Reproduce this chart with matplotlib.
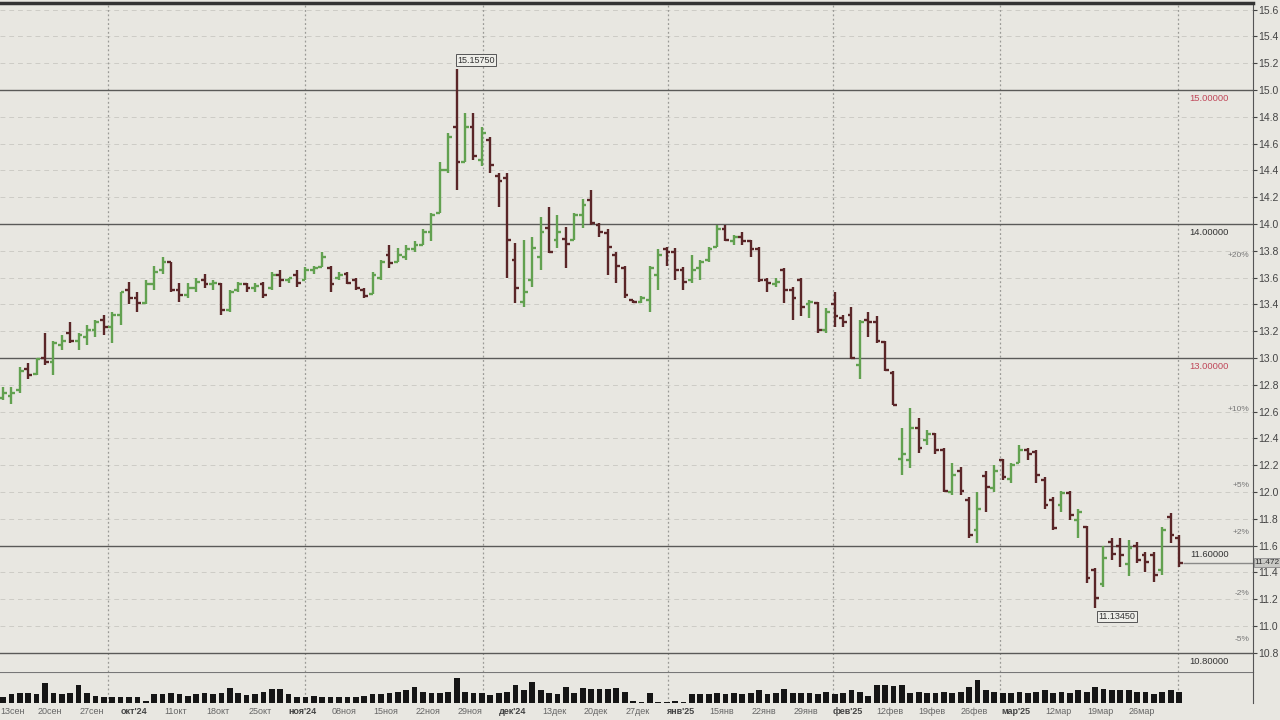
import matplotlib.pyplot as plt
import matplotlib.transforms as mtransforms
import numpy as np

plt.rcParams['font.family'] = ['Liberation Sans', 'DejaVu Sans']

# daily OHLC
opens = [12.70, 12.72, 12.76, 12.92, 12.88, 13.00, 12.97, 13.10, 13.19, 13.13,
         13.16, 13.21, 13.28, 13.23, 13.32, 13.51, 13.45, 13.41, 13.55, 13.66,
         13.72, 13.51, 13.47, 13.52, 13.58, 13.55, 13.55, 13.36, 13.51, 13.55,
         13.52, 13.55, 13.52, 13.62, 13.58, 13.62, 13.58, 13.66, 13.68, 13.67,
         13.60, 13.63, 13.58, 13.51, 13.48, 13.60, 13.77, 13.72, 13.75, 13.81,
         13.84, 13.94, 14.08, 14.40, 14.72, 14.46, 14.72, 14.48, 14.63, 14.36,
         14.34, 13.73, 13.42, 13.58, 13.75, 13.97, 13.88, 13.89, 13.88, 14.07,
         14.18, 13.99, 13.93, 13.77, 13.67, 13.43, 13.42, 13.43, 13.62, 13.81,
         13.79, 13.66, 13.58, 13.67, 13.73, 13.83, 13.96, 13.87, 13.90, 13.87,
         13.81, 13.58, 13.55, 13.66, 13.51, 13.58, 13.40, 13.41, 13.21, 13.40,
         13.30, 13.32, 12.95, 13.28, 13.27, 13.12, 12.89, 12.25, 12.24, 12.48,
         12.39, 12.43, 12.31, 12.00, 12.16, 11.94, 11.72, 12.12, 12.03, 12.24,
         12.10, 12.22, 12.31, 12.30, 12.09, 11.94, 11.90, 11.99, 11.79, 11.74,
         11.42, 11.31, 11.63, 11.60, 11.46, 11.60, 11.53, 11.53, 11.42, 11.81,
         11.66]
highs = [12.78, 12.78, 12.93, 12.96, 13.00, 13.19, 13.13, 13.17, 13.27, 13.19,
         13.25, 13.28, 13.32, 13.34, 13.49, 13.57, 13.49, 13.58, 13.69, 13.75,
         13.72, 13.56, 13.56, 13.60, 13.63, 13.58, 13.56, 13.51, 13.57, 13.56,
         13.56, 13.57, 13.64, 13.66, 13.60, 13.66, 13.68, 13.69, 13.79, 13.69,
         13.64, 13.64, 13.60, 13.52, 13.64, 13.73, 13.84, 13.82, 13.84, 13.87,
         13.96, 14.08, 14.46, 14.68, 15.1575, 14.83, 14.83, 14.72, 14.65, 14.38,
         14.38, 13.86, 13.88, 13.90, 14.05, 14.13, 14.07, 13.98, 14.08, 14.19,
         14.25, 14.01, 13.96, 13.79, 13.69, 13.43, 13.46, 13.69, 13.81, 13.83,
         13.82, 13.68, 13.77, 13.73, 13.83, 13.99, 13.99, 13.92, 13.94, 13.88,
         13.83, 13.60, 13.60, 13.67, 13.53, 13.60, 13.43, 13.42, 13.37, 13.49,
         13.32, 13.38, 13.28, 13.34, 13.31, 13.13, 12.90, 12.48, 12.63, 12.55,
         12.46, 12.44, 12.33, 12.22, 12.19, 11.96, 12.00, 12.16, 12.20, 12.25,
         12.22, 12.35, 12.33, 12.31, 12.11, 11.96, 12.01, 12.01, 11.87, 11.75,
         11.43, 11.60, 11.66, 11.66, 11.64, 11.63, 11.55, 11.55, 11.74, 11.84,
         11.68]
lows = [12.69, 12.66, 12.74, 12.84, 12.87, 12.95, 12.87, 13.06, 13.11, 13.06,
        13.10, 13.16, 13.17, 13.11, 13.25, 13.40, 13.34, 13.40, 13.51, 13.63,
        13.49, 13.42, 13.45, 13.49, 13.52, 13.51, 13.32, 13.34, 13.49, 13.49,
        13.49, 13.45, 13.51, 13.53, 13.56, 13.53, 13.58, 13.63, 13.68, 13.49,
        13.58, 13.55, 13.51, 13.45, 13.48, 13.58, 13.67, 13.72, 13.73, 13.79,
        13.84, 13.87, 14.08, 14.38, 14.25, 14.46, 14.48, 14.43, 14.38, 14.13,
        13.60, 13.41, 13.38, 13.53, 13.66, 13.78, 13.82, 13.67, 13.88, 13.97,
        13.99, 13.90, 13.62, 13.56, 13.45, 13.41, 13.41, 13.34, 13.51, 13.69,
        13.58, 13.51, 13.56, 13.58, 13.72, 13.83, 13.87, 13.84, 13.84, 13.75,
        13.57, 13.49, 13.53, 13.41, 13.28, 13.31, 13.30, 13.19, 13.19, 13.23,
        13.23, 12.99, 12.84, 13.16, 13.11, 12.90, 12.65, 12.13, 12.18, 12.29,
        12.35, 12.28, 12.00, 11.98, 11.98, 11.66, 11.62, 11.85, 12.00, 12.09,
        12.07, 12.22, 12.24, 12.07, 11.87, 11.72, 11.85, 11.79, 11.66, 11.32,
        11.1345, 11.29, 11.49, 11.44, 11.37, 11.47, 11.40, 11.33, 11.38, 11.62,
        11.44]
closes = [12.74, 12.74, 12.90, 12.87, 12.99, 12.97, 13.11, 13.13, 13.13, 13.17,
          13.21, 13.27, 13.23, 13.32, 13.49, 13.45, 13.41, 13.55, 13.64, 13.72,
          13.51, 13.47, 13.52, 13.57, 13.55, 13.56, 13.36, 13.49, 13.55, 13.52,
          13.54, 13.47, 13.62, 13.58, 13.60, 13.56, 13.66, 13.67, 13.75, 13.55,
          13.62, 13.56, 13.52, 13.46, 13.62, 13.72, 13.71, 13.77, 13.81, 13.84,
          13.94, 14.07, 14.40, 14.65, 14.46, 14.72, 14.51, 14.68, 14.44, 14.32,
          13.88, 13.52, 13.49, 13.82, 13.94, 13.79, 13.94, 13.85, 14.07, 14.14,
          14.01, 13.94, 13.83, 13.69, 13.47, 13.42, 13.45, 13.67, 13.77, 13.79,
          13.66, 13.57, 13.66, 13.72, 13.81, 13.96, 13.88, 13.90, 13.87, 13.81,
          13.58, 13.56, 13.57, 13.51, 13.45, 13.38, 13.42, 13.21, 13.34, 13.31,
          13.27, 13.00, 13.27, 13.27, 13.13, 12.91, 12.65, 12.28, 12.48, 12.33,
          12.43, 12.31, 12.01, 12.13, 12.01, 11.68, 11.87, 12.04, 12.16, 12.11,
          12.20, 12.31, 12.28, 12.13, 11.90, 11.73, 11.99, 11.83, 11.85, 11.36,
          11.21, 11.51, 11.54, 11.53, 11.58, 11.49, 11.48, 11.38, 11.72, 11.68,
          11.472]
volumes = [5, 8, 9, 9, 8, 17, 9, 8, 9, 16,
           9, 6, 5, 5, 5, 5, 5, 2, 8, 8,
           9, 8, 6, 8, 9, 8, 9, 13, 9, 7,
           8, 10, 12, 12, 8, 5, 5, 6, 5, 5,
           5, 5, 5, 6, 8, 8, 9, 10, 11, 14,
           10, 9, 9, 10, 22, 10, 9, 9, 7, 9,
           10, 16, 11, 18, 11, 9, 8, 14, 9, 13,
           12, 12, 12, 13, 10, 2, 1, 9, 1, 1,
           2, 1, 8, 8, 8, 9, 8, 9, 8, 9,
           11, 8, 9, 12, 9, 9, 9, 8, 10, 8,
           9, 11, 10, 6, 16, 16, 15, 16, 9, 10,
           9, 9, 10, 9, 10, 14, 20, 11, 10, 9,
           9, 10, 9, 10, 11, 9, 10, 9, 11, 10,
           14, 12, 11, 11, 11, 10, 10, 8, 10, 11,
           10]

date_labels = ['13сен', '20сен', '27сен', "окт'24", '11окт', '18окт', '25окт',
               "ноя'24", '08ноя', '15ноя', '22ноя', '29ноя', "дек'24", '13дек',
               '20дек', '27дек', "янв'25", '15янв', '22янв', '29янв', "фев'25",
               '12фев', '19фев', '26фев', "мар'25", '12мар', '19мар', '26мар']
month_lines = [12.5, 35.9, 57.1, 79.2, 98.8, 118.7, 139.9]
levels = [15.0, 14.0, 13.0, 11.6, 10.8]
level_colors = ['#c0485a', '#333333', '#c0485a', '#333333', '#333333']
pct_labels = ['+20%', '+10%', '+5%', '+2%', '-2%', '-5%']
pct_values = [13.766, 12.619, 12.046, 11.701, 11.243, 10.898]
last_price = 11.472

bg = '#e8e7e1'
green = '#62a150'
red = '#5a2628'

o = np.array(opens)
c = np.array(closes)
x = np.arange(len(closes))
cols = np.where(c >= o, green, red)

fig = plt.figure(figsize=(12.8, 7.2), dpi=100)
fig.patch.set_facecolor(bg)

ax = fig.add_axes([0, 1 - 672 / 720, 1253 / 1280, 669 / 720])
ax.set_facecolor(bg)
ax.set_xlim(-0.36, 148.8)
ax.set_ylim(10.657, 15.649)

# grid
for p in np.arange(10.8, 15.61, 0.2):
    ax.axhline(p, color='#cdccc6', lw=0.7, ls=(0, (5, 4)), zorder=0)
for m in month_lines:
    ax.axvline(m, color='#9a9a96', lw=0.9, ls=(0, (1.5, 2)), zorder=0)
for lv, lc in zip(levels, level_colors):
    ax.axhline(lv, color='#5a5a58', lw=1.0, zorder=1)
    ax.text(143.6, lv - 0.03, '%.5f' % lv, color=lc, fontsize=6.8,
            ha='center', va='top')

# bars
ax.vlines(x, lows, highs, colors=cols, lw=1.7, zorder=3)
ax.hlines(o, x - 0.45, x, colors=cols, lw=1.7, zorder=3)
ax.hlines(c, x, x + 0.45, colors=cols, lw=1.7, zorder=3)

# last price
ax.hlines(last_price, x[-1] + 0.5, 148.8, color='#8a8a88', lw=1.0, zorder=2)
trans = mtransforms.blended_transform_factory(ax.transAxes, ax.transData)
ax.text(1.0012, last_price, '%.3f' % last_price, transform=trans, fontsize=6.0,
        ha='left', va='center', color='#333333', clip_on=False,
        bbox=dict(boxstyle='square,pad=0.12', fc='#c9c9c5', ec='#888888', lw=0.6))

for lab, pv in zip(pct_labels, pct_values):
    ax.text(0.997, pv, lab, transform=trans, fontsize=6, ha='right',
            va='center', color='#777777')

# high / low marks
imax = int(np.argmax(highs))
imin = int(np.argmin(lows))
ax.text(imax + 0.1, highs[imax] + 0.03, '%.5f' % highs[imax], fontsize=6.5,
        ha='left', va='bottom', color='#333333',
        bbox=dict(boxstyle='square,pad=0.15', fc='#eeeee9', ec='#555555', lw=0.7))
ax.text(imin + 0.4, lows[imin] - 0.03, '%.5f' % lows[imin], fontsize=6.5,
        ha='left', va='top', color='#333333',
        bbox=dict(boxstyle='square,pad=0.15', fc='#eeeee9', ec='#555555', lw=0.7))

ax.yaxis.tick_right()
ax.set_yticks(np.arange(10.8, 15.61, 0.2))
ax.set_yticklabels(['%.1f' % t for t in np.arange(10.8, 15.61, 0.2)])
ax.tick_params(axis='y', direction='out', length=3, pad=1, labelsize=7.5,
               colors='#444444')
ax.set_xticks([])
for s in ['left', 'bottom']:
    ax.spines[s].set_visible(False)
ax.spines['right'].set_color('#555555')
ax.spines['top'].set_color('#333333')
ax.spines['top'].set_linewidth(2.5)

# volume pane
vax = fig.add_axes([0, 1 - 703 / 720, 1253 / 1280, 31 / 720])
vax.set_facecolor(bg)
vax.bar(x, volumes, width=0.68, color='#151515')
vax.set_xlim(ax.get_xlim())
vax.set_ylim(0, 27)
vax.set_yticks([])
for s in ['left', 'bottom', 'top']:
    vax.spines[s].set_visible(False)
vax.spines['right'].set_color('#555555')
vax.axhline(27, color='#777777', lw=0.8)
for m in month_lines:
    vax.axvline(m, color='#9a9a96', lw=0.9, ls=(0, (1.5, 2)), zorder=0)

pos = np.arange(len(date_labels)) * 5 + 0.6
pos[0] = 1.1
vax.set_xticks(pos)
vax.set_xticklabels(date_labels)
vax.tick_params(axis='x', length=0, pad=3, labelsize=6.5, colors='#666666')
for t in vax.get_xticklabels():
    if "'" in t.get_text():
        t.set_fontweight('bold')
        t.set_color('#444444')

fig.savefig('out.png', dpi=100, facecolor=bg)
